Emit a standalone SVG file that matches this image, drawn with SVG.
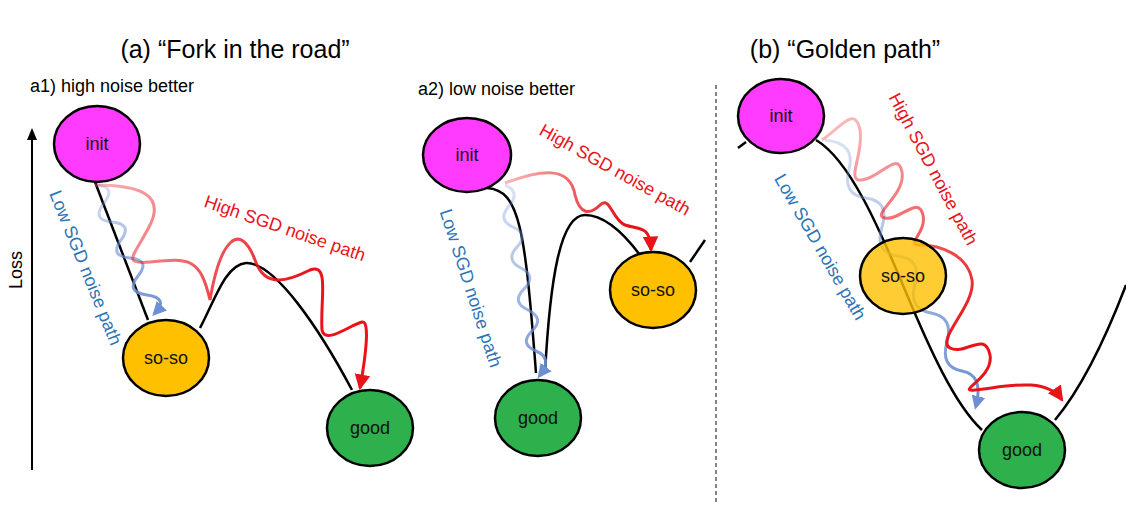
<svg xmlns="http://www.w3.org/2000/svg" width="1126" height="508" viewBox="0 0 1126 508">
<style>
text{font-family:"Liberation Sans","Noto Sans",sans-serif;}
.node{stroke:#000;stroke-width:2.5}
.lbl{font-size:18px;text-anchor:middle}
.nt{font-size:18px;text-anchor:middle;dominant-baseline:central;fill:#111}
.land{fill:none;stroke:#000;stroke-width:2.5}
.red{fill:#e8141a}
.blue{fill:#2e75b6}
</style>
<defs>
<marker id="ar" markerUnits="userSpaceOnUse" markerWidth="18" markerHeight="18" refX="12" refY="8" orient="auto" viewBox="0 0 16 16"><path d="M0,1 L14,8 L0,15 Z" fill="#e8141a"/></marker>
<marker id="ab" markerUnits="userSpaceOnUse" markerWidth="16" markerHeight="16" refX="10" refY="8" orient="auto" viewBox="0 0 16 16"><path d="M0,1 L14,8 L0,15 Z" fill="#6d8fd3"/></marker>
<linearGradient id="gr1" gradientUnits="userSpaceOnUse" x1="95" y1="185" x2="300" y2="280"><stop offset="0" stop-color="#e8141a" stop-opacity="0.3"/><stop offset="1" stop-color="#e8141a"/></linearGradient>
<linearGradient id="gb1" gradientUnits="userSpaceOnUse" x1="95" y1="185" x2="155" y2="313"><stop offset="0" stop-color="#6d8fd3" stop-opacity="0.25"/><stop offset="1" stop-color="#6d8fd3"/></linearGradient>
<linearGradient id="gr2" gradientUnits="userSpaceOnUse" x1="505" y1="183" x2="620" y2="220"><stop offset="0" stop-color="#e8141a" stop-opacity="0.3"/><stop offset="1" stop-color="#e8141a"/></linearGradient>
<linearGradient id="gb2" gradientUnits="userSpaceOnUse" x1="505" y1="185" x2="540" y2="372"><stop offset="0" stop-color="#6d8fd3" stop-opacity="0.25"/><stop offset="1" stop-color="#6d8fd3" stop-opacity="0.9"/></linearGradient>
<linearGradient id="gr3" gradientUnits="userSpaceOnUse" x1="825" y1="140" x2="960" y2="340"><stop offset="0" stop-color="#e8141a" stop-opacity="0.3"/><stop offset="1" stop-color="#e8141a"/></linearGradient>
<linearGradient id="gb3" gradientUnits="userSpaceOnUse" x1="825" y1="140" x2="972" y2="400"><stop offset="0" stop-color="#6d8fd3" stop-opacity="0.25"/><stop offset="1" stop-color="#6d8fd3"/></linearGradient>
</defs>
<rect width="1126" height="508" fill="#fff"/>
<text x="235" y="58" font-size="25" text-anchor="middle">(a) “Fork in the road”</text>
<text x="845" y="58" font-size="25" text-anchor="middle">(b) “Golden path”</text>
<text x="30" y="92" font-size="18">a1) high noise better</text>
<text x="418" y="95" font-size="18">a2) low noise better</text>
<line x1="716" y1="85" x2="716" y2="505" stroke="#333" stroke-width="1.2" stroke-dasharray="4,3"/>
<g id="axis">
<line x1="32" y1="470" x2="32" y2="138" stroke="#000" stroke-width="2"/>
<path d="M27,140 L32,128 L37,140 Z" fill="#000"/>
<text transform="translate(22,270) rotate(-90)" font-size="18" text-anchor="middle">Loss</text>
</g>
<g id="landscape">
<path class="land" d="M95,182 L148,320"/>
<path class="land" d="M200,328 C215,300 225,265 246,263 C275,262 320,330 352,390"/>
<path class="land" d="M487,188 C520,190 525,230 536,373"/>
<path class="land" d="M545,373 C550,280 560,215 585,215 C605,215 625,235 640,255"/>
<path class="land" d="M690,262 L705,240"/>
<path class="land" d="M738,148 L746,142"/>
<path class="land" d="M816,140 C850,160 880,230 905,290 C930,350 955,405 982,430"/>
<path class="land" d="M1055,420 C1080,390 1105,340 1126,285"/>
</g>
<g id="connectors">
<path d="M95,185 Q117,186 104,203 T112,222 T121,240 T130,258 T138,276 T147,295 T155,313" fill="none" stroke="url(#gb1)" stroke-width="3" marker-end="url(#ab)"/>
<path d="M95,185 C140,185 165,195 150,225 C135,255 120,265 150,262 C190,258 200,258 210,300 C220,240 240,220 255,260 C265,290 290,280 310,270 C330,262 320,300 322,330 C325,345 350,325 362,322 C370,320 366,355 360,388" fill="none" stroke="url(#gr1)" stroke-width="3" marker-end="url(#ar)"/>
<path d="M505,185 Q521,192 509,206 T513,227 T517,247 T521,268 T524,289 T528,310 T532,331 T536,351 T540,375" fill="none" stroke="url(#gb2)" stroke-width="3" marker-end="url(#ab)"/>
<path d="M505,183 C540,170 570,165 575,195 C580,215 590,215 600,205 C610,195 612,220 625,225 C640,230 650,225 651,250" fill="none" stroke="url(#gr2)" stroke-width="3" marker-end="url(#ar)"/>
<path d="M825,140 Q856,143 849,169 T866,198 T882,227 T898,256 T915,284 T931,313 T947,342 T962,371 T976,406" fill="none" stroke="url(#gb3)" stroke-width="3" marker-end="url(#ab)"/>
<path d="M822,140 C840,128 855,105 860,130 C864,155 845,182 862,180 C880,178 898,150 902,172 C906,195 870,215 885,218 C900,221 918,195 923,215 C927,232 905,245 920,245 C940,245 968,255 972,280 C976,305 935,340 950,348 C965,356 985,330 990,355 C994,378 955,392 975,390 C1000,388 1045,375 1062,400" fill="none" stroke="url(#gr3)" stroke-width="3" marker-end="url(#ar)"/>
</g>
<g id="n-init-a1"><ellipse class="node" cx="97" cy="144" rx="43" ry="38" fill="#ff3bff"/><text class="nt" x="97" y="144">init</text></g>
<g id="n-soso-a1"><ellipse class="node" cx="166" cy="358" rx="43" ry="38" fill="#ffc000"/><text class="nt" x="166" y="358">so-so</text></g>
<g id="n-good-a1"><ellipse class="node" cx="370" cy="428" rx="43" ry="38" fill="#2eb04c"/><text class="nt" x="370" y="428">good</text></g>
<g id="n-init-a2"><ellipse class="node" cx="467" cy="155" rx="44" ry="37" fill="#ff3bff"/><text class="nt" x="467" y="155">init</text></g>
<g id="n-soso-a2"><ellipse class="node" cx="653" cy="290" rx="43" ry="38" fill="#ffc000"/><text class="nt" x="653" y="290">so-so</text></g>
<g id="n-good-a2"><ellipse class="node" cx="538" cy="418" rx="43" ry="38" fill="#2eb04c"/><text class="nt" x="538" y="418">good</text></g>
<g id="n-init-b"><ellipse class="node" cx="781" cy="116" rx="43" ry="37" fill="#ff3bff"/><text class="nt" x="781" y="116">init</text></g>
<g id="n-soso-b"><ellipse class="node" cx="903" cy="276" rx="43" ry="38" fill="#ffc000" fill-opacity="0.8"/><text class="nt" x="903" y="276">so-so</text></g>
<g id="n-good-b"><ellipse class="node" cx="1022" cy="450" rx="43" ry="38" fill="#2eb04c"/><text class="nt" x="1022" y="450">good</text></g>
<g id="labels">
<text class="lbl red" transform="translate(283,234) rotate(19)">High SGD noise path</text>
<text class="lbl blue" transform="translate(80,270) rotate(68)">Low SGD noise path</text>
<text class="lbl red" transform="translate(612,175) rotate(29)">High SGD noise path</text>
<text class="lbl blue" transform="translate(465,290) rotate(72)">Low SGD noise path</text>
<text class="lbl red" transform="translate(928,172) rotate(62)">High SGD noise path</text>
<text class="lbl blue" transform="translate(815,250) rotate(60)">Low SGD noise path</text>
</g>
</svg>
